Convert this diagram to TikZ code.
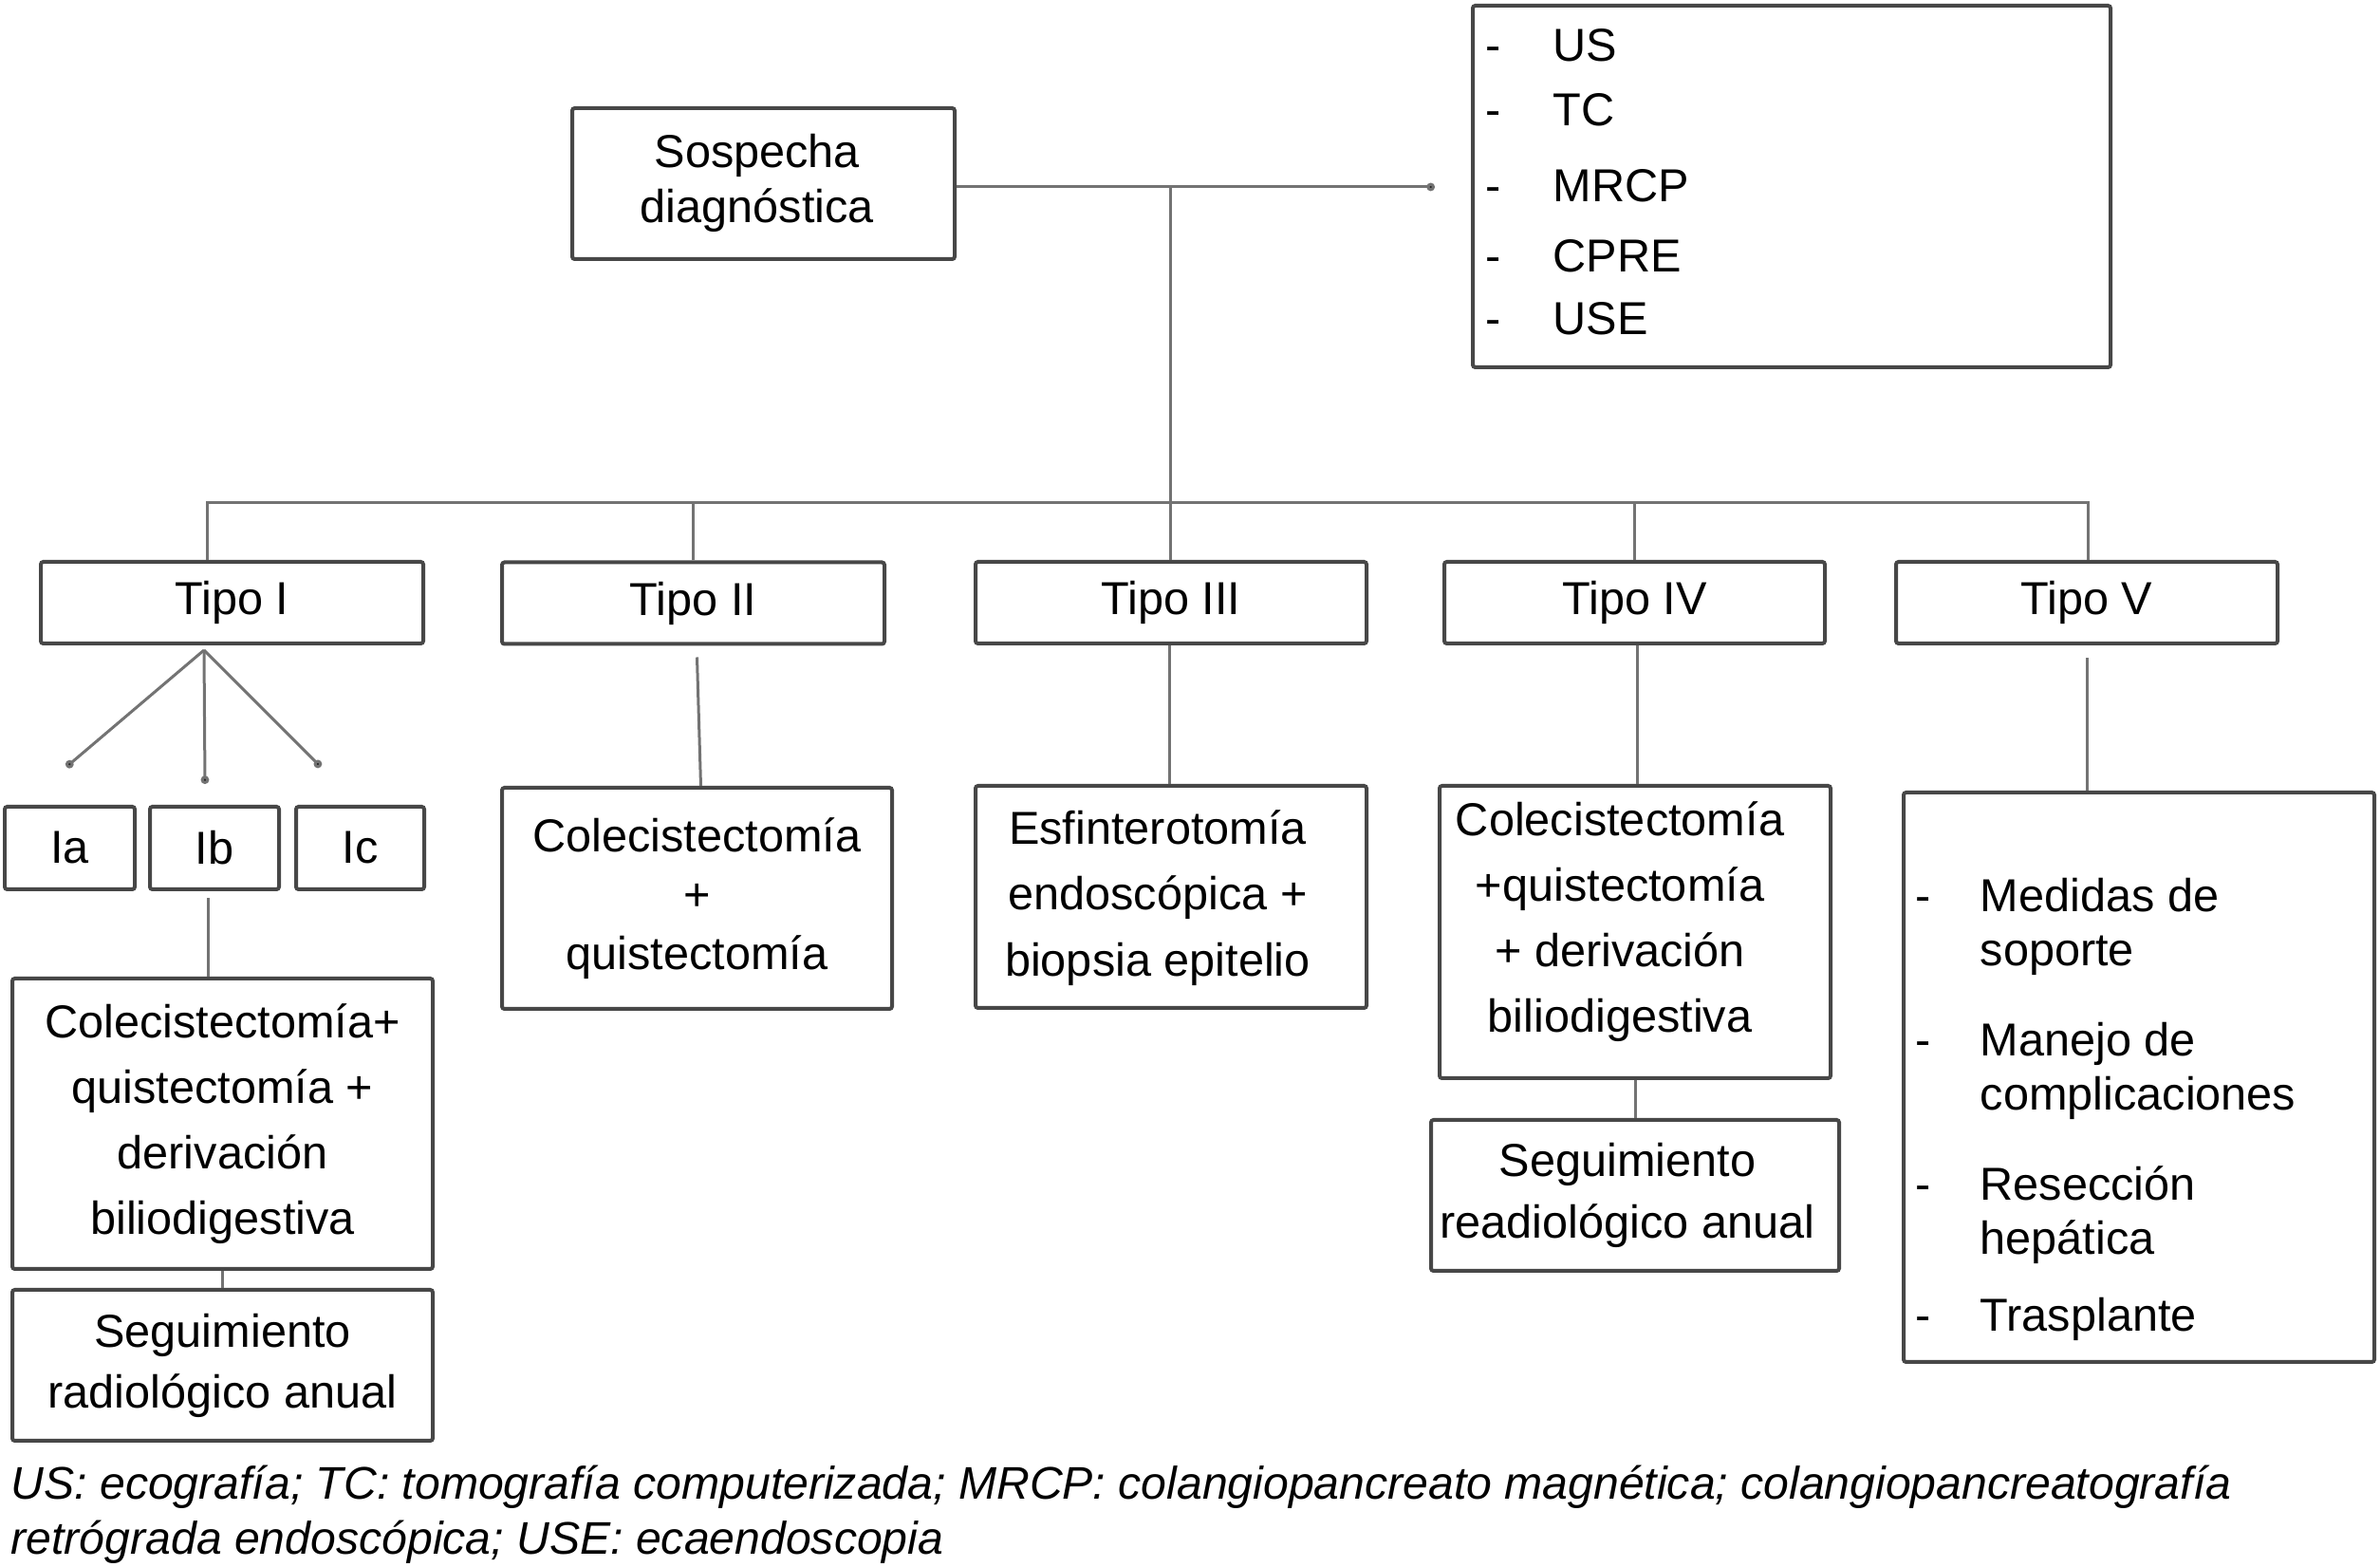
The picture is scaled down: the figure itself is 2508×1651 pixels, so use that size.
\documentclass[tikz,border=0pt]{standalone}
\usepackage{fontspec}
\setmainfont{Liberation Sans}
\usetikzlibrary{arrows.meta,calc}
\begin{document}
\begin{tikzpicture}[x=0.3pt,y=-0.3pt,
  bsize/.style 2 args={minimum width=#1*0.3pt, minimum height=#2*0.3pt},
  box/.style={draw=black!72, line width=1.2pt, rounded corners=0.8pt, inner sep=0pt, align=center, font=\fontsize{14.6}{20.7}\selectfont},
  conn/.style={draw=black!55, line width=0.9pt},
  dotconn/.style={conn, -{Circle[length=2.6pt, width=2.6pt, fill=black!85]}},
  txt/.style={inner sep=0pt, anchor=base west, font=\fontsize{14.6}{17.5}\selectfont},
  foot/.style={txt, font=\fontsize{14.45}{17.5}\selectfont\itshape},
]
\useasboundingbox (0,0) rectangle (2508,1651);

% top
\node[box, bsize={403}{159}, font=\fontsize{14.6}{17.4}\selectfont] (sosp) at (804.5,193.5) {\kern-4pt\begin{tabular}{@{}c@{}}Sospecha\\diagnóstica\end{tabular}};
\node[box, bsize={672}{381}] (lst) at (1888,196.5) {};
\foreach \t/\y in {US/65, TC/133, MRCP/213, CPRE/287, USE/353} {
  \node[txt] (ld\t) at (1565,\y) {-};
  \node[txt] (lt\t) at (1636,\y) {\t};
}

% tipos
\node[box, bsize={403}{86}] (t1) at (244.5,635) {Tipo I};
\node[box, bsize={403}{86}] (t2) at (730.5,635.5) {Tipo II};
\node[box, bsize={412}{86}] (t3) at (1234,635) {Tipo III};
\node[box, bsize={401}{86}] (t4) at (1722.5,635) {Tipo IV};
\node[box, bsize={402}{86}] (t5) at (2199,635) {Tipo V};

% tipo I subtypes
\node[box, bsize={137}{87}] (ia) at (73.5,893.5) {Ia};
\node[box, bsize={136}{87}] (ib) at (226,893.5) {Ib};
\node[box, bsize={135}{87}] (ic) at (379.5,893.5) {Ic};

\node[box, bsize={443}{306}, font=\fontsize{14.6}{20.7}\selectfont] (c1) at (234.5,1184) {Colecistectomía+\\quistectomía +\\derivación\\biliodigestiva};
\node[box, bsize={443}{159}, font=\fontsize{14.6}{19.2}\selectfont] (s1) at (234.5,1438.5) {Seguimiento\\radiológico anual};

\node[box, bsize={411}{233}, font=\fontsize{14.6}{18.6}\selectfont] (c2) at (734.5,946.5) {Colecistectomía\\+\\quistectomía};
\node[box, bsize={412}{234}, font=\fontsize{14.6}{20.85}\selectfont] (c3) at (1234,945) {\kern-8.4pt\begin{tabular}{@{}c@{}}Esfinterotomía\\endoscópica +\\biopsia epitelio\end{tabular}};
\node[box, bsize={412}{308}, font=\fontsize{14.6}{20.7}\selectfont] (c4) at (1723,982) {\kern-9.6pt\smash{\begin{tabular}{@{}c@{}}Colecistectomía\\+quistectomía\\+ derivación\\biliodigestiva\end{tabular}}};
\node[box, bsize={430}{159}, font=\fontsize{14.6}{19.5}\selectfont] (s4) at (1723,1259.5) {\kern-4.8pt\begin{tabular}{@{}c@{}}Seguimiento\\readiológico anual\end{tabular}};

\node[box, bsize={496}{600}] (c5) at (2254,1135) {};
\foreach \n/\y in {1/961, 2/1113, 3/1265, 4/1403} {
  \node[txt] (vd\n) at (2018,\y) {-};
}
\node[txt] (v1a) at (2086,961) {Medidas de};
\node[txt] (v1b) at (2086,1018) {soporte};
\node[txt] (v2a) at (2086,1113) {Manejo de};
\node[txt] (v2b) at (2086,1170) {complicaciones};
\node[txt] (v3a) at (2086,1265) {Resección};
\node[txt] (v3b) at (2086,1322) {hepática};
\node[txt] (v4a) at (2086,1403) {Trasplante};

% footnote
\node[foot] (fn1) at (11,1580) {US: ecografía; TC: tomografía computerizada; MRCP: colangiopancreato magnética; colangiopancreatografía};
\node[foot] (fn2) at (11,1638) {retrógrada endoscópica; USE: ecaendoscopia};

% connectors
\coordinate (jt) at (1233,197);
\coordinate (dotend) at (1512,197);
\draw[dotconn] (sosp.east |- dotend) -- (dotend);
\draw[conn] (jt) -- (jt |- t3.north);
\coordinate (busL) at (218,530);
\coordinate (busR) at (2200,530);
\draw[conn] (busL |- t1.north) -- (busL) -- (busR) -- (busR |- t5.north);
\draw[conn] (t2.north) -- (t2.north |- busL);
\draw[conn] (t4.north) -- (t4.north |- busL);

\coordinate (fan) at (215,685);
\coordinate (fa) at (70,808);
\coordinate (fb) at (216,826);
\coordinate (fc) at (338,808);
\draw[dotconn] (fan) -- (fa);
\draw[dotconn] (fan) -- (fb);
\draw[dotconn] (fan) -- (fc);

\coordinate (ibs) at ($(ib.south)+(-7,7)$);
\draw[conn] (ibs) -- (ibs |- c1.north);
\draw[conn] (c1.south) -- (s1.north);
\draw[conn] ($(t2.south)+(4,12)$) -- ($(c2.north)+(4,0)$);
\draw[conn] ($(t3.south)+(-2,0)$) -- ($(c3.north)+(-2,0)$);
\coordinate (t4s) at ($(t4.south)+(3,0)$);
\draw[conn] (t4s) -- (t4s |- c4.north);
\draw[conn] (c4.south) -- (s4.north);
\coordinate (t5s) at ($(t5.south)+(0,13)$);
\draw[conn] (t5s) -- (t5s |- c5.north);
\end{tikzpicture}
\end{document}
